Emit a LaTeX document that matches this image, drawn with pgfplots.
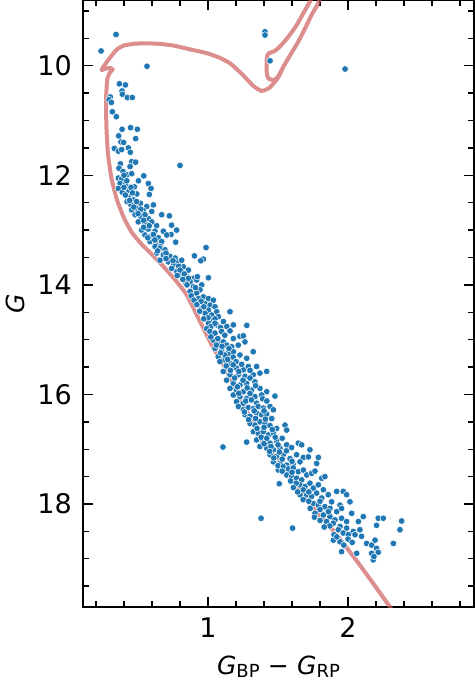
\documentclass[border=0pt]{standalone}
\usepackage{fontspec}
\setmainfont{DejaVu Sans}
\usepackage{pgfplots}
\pgfplotsset{compat=1.18}
\definecolor{mblue}{HTML}{1F77B4}
\definecolor{iso}{RGB}{205,92,92}
\begin{document}
\fontsize{27}{30}\selectfont
\begin{tikzpicture}
\begin{axis}[
 scale only axis, width=391pt, height=607pt,
 xmin=0.107, xmax=2.9, ymin=8.8, ymax=19.88, y dir=reverse,
 xtick={1,2}, ytick={10,12,14,16,18},
 minor xtick={0.2,0.4,0.6,0.8,1.2,1.4,1.6,1.8,2.2,2.4,2.6,2.8},
 minor ytick={9,9.5,10.5,11,11.5,12.5,13,13.5,14.5,15,15.5,16.5,17,17.5,18.5,19,19.5},
 tick align=inside, major tick length=10pt, minor tick length=6pt,
 every tick/.style={black, line width=1.4pt},
 axis line style={line width=2pt},
 /pgf/number format/assume math mode=true,
 ticklabel style={font=\fontsize{27}{30}\selectfont},
 xticklabel style={anchor=base, inner sep=0pt, yshift=-30pt},
 yticklabel style={anchor=east, inner sep=0pt, xshift=-11pt},
 label style={font=\fontsize{25}{28}\selectfont},
 xlabel={{\itshape G}\raisebox{-3pt}{\fontsize{18}{20}\selectfont BP}\hspace{0.33em}−\hspace{0.33em}{\itshape G}\raisebox{-3pt}{\fontsize{18}{20}\selectfont RP}},
 xlabel style={at={(axis description cs:0.5,-0.112)}, anchor=base, inner sep=0pt},
 ylabel={\itshape G},
 ylabel style={at={(axis description cs:-0.148,0.5)}, anchor=south, inner sep=0pt},
]
\addplot[only marks, mark=*, mark size=3.3pt, mark options={fill=mblue, draw=white, line width=0.5pt}] coordinates {
(0.343,9.43)(0.236,9.73)(0.564,10.01)(0.367,10.33)(0.41,10.35)(0.386,10.46)(0.388,10.52)(0.424,10.58)(0.459,10.58)(0.302,10.57)(0.293,10.62)(0.31,10.67)(0.317,10.84)(0.345,10.93)(0.386,11.16)(0.447,11.13)(0.495,11.16)(0.362,11.28)(0.483,11.33)(0.378,11.39)(0.397,11.4)
(1.407,9.38)(1.407,9.44)(1.443,9.91)(1.979,10.06)(0.80,11.82)(1.107,16.96)(1.379,18.26)(2.18,19.02)
(0.331,11.51)(0.36,11.56)(0.383,11.53)(0.431,11.5)(0.445,11.58)
(0.374,11.79)(0.455,11.75)(0.483,11.76)(0.443,11.84)(0.364,11.87)(0.393,11.93)(0.422,11.99)(0.455,11.97)(0.36,12.05)(0.383,12.07)(0.541,12.01)(0.503,12.10)(0.372,12.15)(0.412,12.16)(0.474,12.21)(0.574,12.15)(0.36,12.24)(0.388,12.31)(0.436,12.29)(0.491,12.34)(0.593,12.24)(0.581,12.35)(0.431,12.39)(0.467,12.45)(0.422,12.48)(0.45,12.54)(0.517,12.51)(0.562,12.57)(0.61,12.54)(0.491,12.6)(0.538,12.64)(0.455,12.63)(0.598,12.66)(0.479,12.72)(0.521,12.75)(0.574,12.79)(0.669,12.72)(0.724,12.74)(0.502,12.85)(0.55,12.88)(0.598,12.85)(0.633,12.92)(0.74,12.91)(0.526,13.0)(0.574,12.98)(0.621,13.02)(0.681,13.02)(0.736,13.08)(0.705,13.09)(0.776,13.0)(0.55,13.09)(0.598,13.1)(0.645,13.14)(0.586,13.21)(0.626,13.24)(0.669,13.21)(0.769,13.22)
(0.40,12.00)(0.42,12.10)(0.40,12.22)(0.45,12.22)(0.41,12.36)(0.46,12.32)(0.44,12.46)(0.49,12.48)(0.47,12.58)(0.52,12.62)(0.50,12.70)(0.55,12.72)(0.54,12.82)(0.58,12.92)(0.54,12.95)(0.61,13.08)(0.62,13.18)(0.66,13.30)(0.57,13.14)
(0.622,13.30)(0.657,13.33)(0.693,13.36)(0.634,13.42)(0.681,13.45)(0.729,13.48)(0.765,13.51)(0.657,13.55)(0.717,13.58)(0.788,13.58)(0.812,13.55)(0.753,13.64)(0.824,13.67)(0.86,13.73)(0.776,13.76)(0.812,13.82)(0.848,13.85)(0.896,13.88)(0.872,13.94)(0.919,13.91)(0.955,14.0)(0.836,13.94)(0.896,14.03)(0.943,14.09)(0.872,14.12)(0.919,14.15)(0.967,14.22)(1.003,14.25)(1.038,14.28)(0.931,14.25)(0.979,14.34)(1.015,14.37)(1.05,14.4)(0.955,14.43)(1.003,14.46)(1.062,14.49)(0.979,14.52)(1.026,14.55)(1.074,14.58)(1.11,14.67)(1.038,14.64)(1.003,14.7)(1.062,14.73)(1.134,14.76)(1.181,14.73)
(0.64,13.38)(0.70,13.42)(0.75,13.56)(0.70,13.52)(0.79,13.66)(0.74,13.70)(0.80,13.73)(0.83,13.80)(0.78,13.83)(0.86,13.88)(0.82,13.90)(0.85,14.0)(0.91,14.05)(0.88,14.20)(0.90,14.28)(0.95,14.30)(0.92,14.36)(0.97,14.40)(0.94,14.48)(1.00,14.60)(0.97,14.62)(1.05,14.62)(1.02,14.76)(1.09,14.78)(0.99,14.80)(1.05,14.70)
(0.986,13.32)(0.903,13.47)(0.967,13.53)(0.948,13.56)(0.924,13.85)(1.003,13.87)(1.157,14.49)(1.277,14.74)
(1.014,14.85)(1.05,14.88)(1.097,14.85)(1.157,14.84)(1.181,14.98)(1.228,14.94)(1.264,15.04)(1.252,14.93)(1.038,15.01)(1.073,15.07)(1.109,15.04)(1.133,15.1)(1.169,15.13)(1.216,15.1)(1.05,15.16)(1.097,15.19)(1.145,15.25)(1.181,15.22)(1.228,15.28)(1.276,15.34)(1.323,15.22)(1.073,15.31)(1.121,15.37)(1.157,15.43)(1.085,15.4)(1.204,15.52)(1.252,15.55)(1.288,15.49)(1.347,15.49)(1.419,15.58)(1.109,15.58)(1.157,15.64)(1.216,15.64)(1.264,15.67)(1.323,15.64)(1.371,15.61)(1.133,15.74)(1.181,15.8)(1.228,15.83)(1.276,15.8)(1.335,15.77)(1.157,15.89)(1.204,15.92)(1.252,15.95)(1.311,15.92)(1.371,15.89)(1.419,15.95)(1.478,16.03)(1.181,16.01)(1.228,16.04)(1.276,16.07)(1.335,16.04)(1.383,16.01)(1.204,16.13)(1.252,16.16)(1.347,16.16)
(1.02,14.95)(1.07,14.98)(1.12,14.92)(1.06,15.1)(1.10,15.12)(1.15,15.16)(1.12,15.28)(1.09,15.24)(1.18,15.32)(1.14,15.36)(1.20,15.40)(1.13,15.48)(1.18,15.46)(1.24,15.45)(1.16,15.56)(1.22,15.58)(1.30,15.56)(1.19,15.70)(1.25,15.74)(1.30,15.70)(1.21,15.86)(1.28,15.88)(1.34,15.84)(1.22,15.98)(1.30,15.98)(1.27,16.12)(1.31,16.10)(1.39,16.08)(1.42,16.12)
(1.217,16.22)(1.252,16.28)(1.288,16.24)(1.324,16.26)(1.359,16.22)(1.395,16.25)(1.443,16.22)(1.467,16.28)(1.264,16.37)(1.3,16.4)(1.347,16.34)(1.383,16.37)(1.419,16.36)(1.455,16.44)(1.3,16.53)(1.336,16.56)(1.371,16.5)(1.407,16.53)(1.443,16.57)(1.49,16.62)(1.55,16.56)(1.562,16.65)(1.324,16.68)(1.359,16.71)(1.395,16.68)(1.431,16.74)(1.467,16.71)(1.276,16.87)(1.347,16.83)(1.395,16.86)(1.443,16.89)(1.49,16.85)(1.371,16.95)(1.419,16.98)(1.467,17.01)(1.514,16.98)(1.562,16.92)(1.597,16.97)(1.645,16.89)(1.669,16.92)(1.728,17.01)(1.443,17.1)(1.49,17.13)(1.538,17.1)(1.586,17.17)(1.633,17.1)(1.681,17.15)(1.717,17.14)(1.788,17.15)(1.467,17.23)(1.514,17.26)(1.562,17.29)(1.609,17.28)(1.657,17.23)(1.776,17.26)(1.502,17.38)(1.509,17.63)
(1.26,16.32)(1.33,16.30)(1.40,16.30)(1.29,16.46)(1.34,16.44)(1.41,16.45)(1.35,16.62)(1.40,16.60)(1.46,16.64)(1.38,16.78)(1.42,16.80)(1.48,16.78)(1.53,16.80)(1.40,16.90)(1.45,16.95)(1.50,16.92)(1.44,17.04)(1.51,17.05)(1.56,17.03)(1.47,17.16)(1.53,17.18)(1.60,17.22)(1.50,17.30)(1.55,17.35)
(1.538,17.32)(1.574,17.36)(1.609,17.34)(1.645,17.41)(1.681,17.38)(1.562,17.47)(1.597,17.5)(1.633,17.53)(1.669,17.56)(1.705,17.47)(1.74,17.44)(1.764,17.4)(1.812,17.53)(1.835,17.5)(1.657,17.65)(1.693,17.68)(1.728,17.62)(1.752,17.71)(1.788,17.65)(1.824,17.74)(1.657,17.83)(1.705,17.83)(1.74,17.86)(1.776,17.8)(1.812,17.89)(1.859,17.83)(1.883,17.96)(1.919,17.77)(1.966,17.77)(1.99,17.83)(2.014,17.96)(1.943,18.02)(1.752,17.99)(1.788,18.02)(1.835,18.05)(1.871,18.08)(1.919,18.14)(1.954,18.08)(1.764,18.17)(1.824,18.2)(1.871,18.23)(1.907,18.29)(1.954,18.26)(1.99,18.32)(2.026,18.17)(2.074,18.32)(2.109,18.23)(1.847,18.32)(1.895,18.35)(1.943,18.41)(1.99,18.44)(2.038,18.5)(2.085,18.47)(1.931,18.47)(1.966,18.53)(2.002,18.56)(2.05,18.56)(2.097,18.59)(2.133,18.72)(2.169,18.75)(2.193,18.66)(2.216,18.26)(2.252,18.26)(2.204,18.39)(2.383,18.31)(2.371,18.47)(2.324,18.72)(1.943,18.69)(1.895,18.66)(1.954,18.87)(2.062,18.9)(2.169,18.9)(2.204,18.81)(2.216,18.88)(2.185,18.96)(1.604,18.44)
(1.53,17.40)(1.60,17.42)(1.59,17.58)(1.63,17.62)(1.61,17.70)(1.68,17.74)(1.64,17.78)(1.72,17.78)(1.68,17.92)(1.72,17.95)(1.80,17.95)(1.73,18.08)(1.80,18.10)(1.76,18.24)(1.86,18.14)(1.80,18.30)(1.87,18.40)(1.83,18.42)(1.90,18.56)(1.92,18.60)(2.00,18.64)(1.97,18.75)(2.03,18.70)
};
\addplot[iso, opacity=0.7, line width=4pt, line join=round, line cap=round, smooth, tension=0.3] coordinates {
(2.32,19.95)(2.18,19.45)(2.06,19.03)(1.90,18.50)(1.776,18.14)(1.62,17.62)(1.467,17.10)(1.36,16.70)(1.228,16.08)(1.109,15.45)(1.038,15.15)(0.979,14.85)(0.92,14.55)(0.848,14.18)(0.776,13.94)(0.68,13.66)(0.59,13.42)(0.526,13.26)(0.455,13.04)(0.40,12.78)(0.35,12.45)(0.31,12.05)(0.285,11.6)(0.274,11.1)(0.272,10.6)(0.28,10.25)(0.30,10.12)(0.32,10.07)(0.30,10.04)(0.26,10.06)(0.24,10.08)(0.25,10.03)(0.28,9.92)(0.31,9.82)(0.35,9.70)(0.40,9.63)(0.47,9.60)(0.55,9.59)(0.65,9.60)(0.75,9.63)(0.87,9.70)(0.99,9.77)(1.08,9.85)(1.16,9.96)(1.25,10.17)(1.324,10.37)(1.383,10.46)(1.44,10.40)(1.50,10.22)(1.538,10.02)(1.586,9.81)(1.645,9.56)(1.693,9.32)(1.74,9.07)(1.781,8.89)(1.81,8.70)(1.781,8.89)(1.74,9.07)(1.693,9.32)(1.645,9.56)(1.586,9.81)(1.538,10.02)(1.50,10.2)(1.47,10.26)(1.435,10.24)(1.42,10.15)(1.42,9.85)(1.435,9.77)(1.47,9.74)(1.514,9.65)(1.574,9.47)(1.633,9.26)(1.681,9.04)(1.728,8.83)(1.75,8.70)
};
\end{axis}
\pgfresetboundingbox
\useasboundingbox ([shift={(-83pt,-75pt)}]current axis.south west) rectangle (current axis.north east);
\end{tikzpicture}
\end{document}
